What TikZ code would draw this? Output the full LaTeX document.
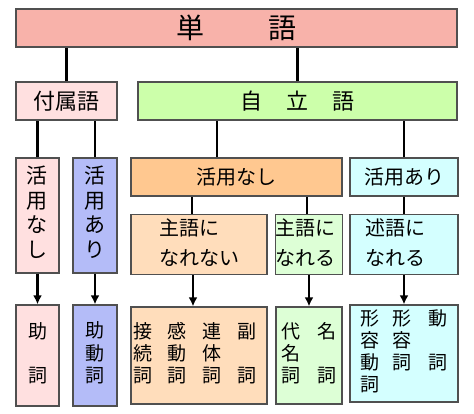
\documentclass[tikz,border=0pt]{standalone}
\usepackage{fontspec}
\newfontfamily\jpfont{Noto Sans CJK JP}
\usepackage{tikz}
\usetikzlibrary{arrows.meta,calc}
\definecolor{tangocol}{HTML}{F8B2AA}
\definecolor{palepink}{HTML}{FFE0E0}
\definecolor{jiritsucol}{HTML}{CCFFAA}
\definecolor{lavender}{HTML}{B4BCF8}
\definecolor{orangecol}{HTML}{FFC890}
\definecolor{peach}{HTML}{FFDDBB}
\definecolor{palegreen}{HTML}{DDFFD6}
\definecolor{palecyan}{HTML}{D4FFFF}
\definecolor{boxgray}{HTML}{505050}
\tikzset{
    box/.style={draw=boxgray, line width=1.3pt, inner sep=0pt, anchor=center},
    link/.style={line width=2.2pt},
    arrow/.style={-{Latex[length=9pt, width=9pt]}, line width=2.2pt},
    bigtext/.style={font=\jpfont\fontsize{28}{30}\selectfont},
    midtext/.style={font=\jpfont\fontsize{22}{24}\selectfont},
    smalltext/.style={font=\jpfont\fontsize{20}{30}\selectfont},
    tatetext/.style={font=\jpfont\fontsize{21}{24.5}\selectfont},
    cell/.style={font=\jpfont\fontsize{19}{21}\selectfont}
}

\begin{document}
\begin{tikzpicture}[x=1pt, y=-1pt]
                \useasboundingbox (0,0) rectangle (474,414);
                % top level
                \node[box, bigtext, fill=tangocol, minimum width=441, minimum height=38] (tango) at (236.5,28) {単\hspace{65pt}語\hspace{34pt}};
                \node[box, midtext, fill=palepink, minimum width=101, minimum height=38] (fuzokugo) at (66.5,101) {付属語\hspace{7pt}};
                \node[box, midtext, fill=jiritsucol, minimum width=319, minimum height=38] (jiritsugo) at (297.5,101) {自\hspace{24pt}立\hspace{24pt}語\hspace{43pt}};
                % third level
                \node[box, tatetext, fill=palepink, minimum width=43, minimum height=115] (fnashi) at (37.5,215.5) {\begin{tabular}{@{}c@{}}活\\用\\な\\し\end{tabular}};
                \node[box, tatetext, fill=lavender, minimum width=44, minimum height=115] (fari) at (95,215.5) {\begin{tabular}{@{}c@{}}活\\用\\あ\\り\end{tabular}};
                \node[box, smalltext, fill=orangecol, minimum width=211, minimum height=38] (jnashi) at (236.5,177) {活用なし\hspace{13pt}};
                \node[box, smalltext, fill=palecyan, minimum width=108, minimum height=38] (jari) at (404,177) {活用あり};
                \node[box, smalltext, fill=peach, minimum width=136, minimum height=57] (narenai) at (199,244.5) {\begin{tabular}{@{}l@{}}主語に\\なれない\end{tabular}};
                \node[box, smalltext, fill=palegreen, minimum width=66, minimum height=57] (nareru) at (309,244.5) {\begin{tabular}{@{}l@{\hspace{7pt}}}主語に\\なれる\end{tabular}};
                \node[box, smalltext, fill=palecyan, minimum width=108, minimum height=57] (jutsugo) at (404,244.5) {\begin{tabular}{@{}l@{\hspace{18pt}}}述語に\\なれる\end{tabular}};
                % word classes
                \node[box, cell, fill=palepink, minimum width=43, minimum height=101] (joshi) at (37.5,355.5) {\fontsize{19}{22}\selectfont\begin{tabular}{@{}c@{}}助\\ \\詞\end{tabular}};
                \node[box, cell, fill=lavender, minimum width=44, minimum height=101] (jodoushi) at (95,355.5) {\fontsize{19}{22}\selectfont\begin{tabular}{@{}c@{}}助\\動\\詞\end{tabular}};
                \node[box, cell, fill=peach, minimum width=136, minimum height=97] (fuyougen) at (199,355.5) {\begin{tabular}{@{}c@{\hspace{16pt}}c@{\hspace{16pt}}c@{\hspace{16pt}}c@{\hspace{8pt}}}接&感&連&副\\続&動&体&\\詞&詞&詞&詞\end{tabular}};
                \node[box, cell, fill=palegreen, minimum width=66, minimum height=97] (taigen) at (309,355.5) {\begin{tabular}{@{}c@{\hspace{18pt}}c@{}}代&名\\名&\\詞&詞\end{tabular}};
                \node[box, cell, fill=palecyan, minimum width=108, minimum height=97] (yougen) at (404,353.5) {\begin{tabular}{@{}c@{\hspace{13pt}}c@{\hspace{18pt}}c@{}}形&形&動\\容&容&\\動&詞&詞\\詞&&\end{tabular}};
                % connectors
                \draw[link] (fuzokugo.north) -- (fuzokugo.north |- tango.south);
                \draw[link] (jiritsugo.north) -- (jiritsugo.north |- tango.south);
                \draw[link] (fnashi.north) -- (fnashi.north |- fuzokugo.south);
                \draw[link] (fari.north) -- (fari.north |- fuzokugo.south);
                \draw[link] ([xshift=-19.5pt]jnashi.north) -- ([xshift=-19.5pt]jnashi.north |- jiritsugo.south);
                \draw[link] (jari.north) -- (jari.north |- jiritsugo.south);
                \draw[link] ([xshift=-7pt]narenai.north) -- ([xshift=-7pt]narenai.north |- jnashi.south);
                \draw[link] ([xshift=-2pt]nareru.north) -- ([xshift=-2pt]nareru.north |- jnashi.south);
                \draw[link] (jutsugo.north) -- (jutsugo.north |- jari.south);
                \draw[arrow] (fnashi) -- (joshi);
                \draw[arrow] (fari) -- (jodoushi);
                \draw[arrow] ([xshift=-6pt]narenai.south) -- ([xshift=-6pt]fuyougen.north);
                \draw[arrow] (nareru) -- (taigen);
                \draw[arrow] (jutsugo) -- (yougen);
            \end{tikzpicture}
\end{document}
